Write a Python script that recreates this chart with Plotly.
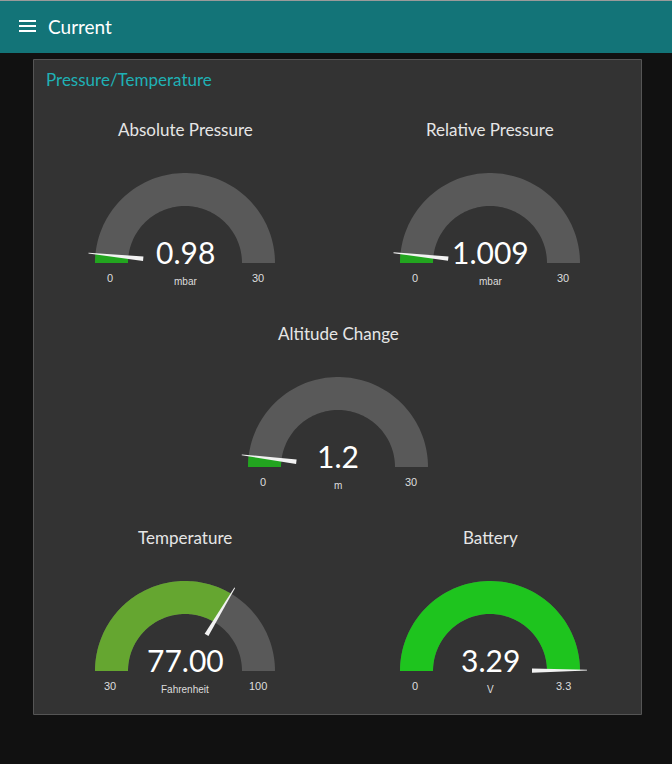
import plotly.graph_objects as go
import numpy as np

# gauge data
titles = ["Absolute Pressure", "Relative Pressure", "Altitude Change", "Temperature", "Battery"]
values = [0.98, 1.009, 1.2, 77.0, 3.29]
value_labels = ["0.98", "1.009", "1.2", "77.00", "3.29"]
mins = [0, 0, 0, 30, 0]
maxs = [30, 30, 30, 100, 3.3]
min_labels = ["0", "0", "0", "30", "0"]
max_labels = ["30", "30", "30", "100", "3.3"]
units = ["mbar", "mbar", "m", "Fahrenheit", "V"]
colors = ["#22a51f", "#22a51f", "#22a51f", "#65a630", "#1ec41e"]

# layout positions (pixel space)
centers = [(185, 263), (490, 263), (338, 467), (185, 671), (490, 671)]
R_IN, R_OUT = 57, 90
FONT = "Lato"

def arc(cx, cy, r0, r1, a0, a1, n=80):
    t = np.radians(np.linspace(a0, a1, n))
    xs = np.concatenate([cx + r1 * np.cos(t), cx + r0 * np.cos(t[::-1])])
    ys = np.concatenate([cy - r1 * np.sin(t), cy - r0 * np.sin(t[::-1])])
    return np.append(xs, xs[0]), np.append(ys, ys[0])

fig = go.Figure()
shapes = [
    dict(type="rect", x0=0, x1=672, y0=0, y1=764, fillcolor="#111111", line_width=0, layer="below"),
    dict(type="rect", x0=0, x1=672, y0=0, y1=53, fillcolor="#137478", line_width=0, layer="below"),
    dict(type="line", x0=0, x1=672, y0=0.5, y1=0.5, line=dict(color="#9a9a9a", width=1)),
    dict(type="rect", x0=33.5, x1=641.5, y0=59.5, y1=714.5, fillcolor="#333333",
         line=dict(color="#555555", width=1), layer="below"),
]
for yy in (21, 26, 31):
    shapes.append(dict(type="line", x0=19, x1=36, y0=yy, y1=yy, line=dict(color="white", width=2)))

annotations = [
    dict(x=46, y=26, text="Current", font=dict(size=19, color="white", family=FONT), xanchor="left"),
    dict(x=44, y=79, text="Pressure/Temperature", font=dict(size=17, color="#1fb1b5", family=FONT), xanchor="left"),
]

for i, (cx, cy) in enumerate(centers):
    frac = (values[i] - mins[i]) / (maxs[i] - mins[i])
    ang = 180 - 180 * min(max(frac, 0), 1)
    xs, ys = arc(cx, cy, R_IN, R_OUT, 0, 180)
    fig.add_trace(go.Scatter(x=xs, y=ys, fill="toself", fillcolor="#595959", mode="none", hoverinfo="skip"))
    xs, ys = arc(cx, cy, R_IN, R_OUT, ang, 180)
    fig.add_trace(go.Scatter(x=xs, y=ys, fill="toself", fillcolor=colors[i], mode="none", hoverinfo="skip"))
    # needle
    t = np.radians(ang)
    ux, uy = np.cos(t), -np.sin(t)
    px, py = -uy, ux
    r0, r1 = 42, 97
    nx = [cx + r0 * ux + 2.2 * px, cx + r1 * ux + 0.4 * px, cx + r1 * ux - 0.4 * px, cx + r0 * ux - 2.2 * px]
    ny = [cy + r0 * uy + 2.2 * py, cy + r1 * uy + 0.4 * py, cy + r1 * uy - 0.4 * py, cy + r0 * uy - 2.2 * py]
    fig.add_trace(go.Scatter(x=nx + [nx[0]], y=ny + [ny[0]], fill="toself", fillcolor="#f2f2f2",
                             mode="none", hoverinfo="skip"))
    annotations += [
        dict(x=cx, y=cy - 134, text=titles[i], font=dict(size=17, color="#e6e6e6", family=FONT)),
        dict(x=cx, y=cy - 11, text=value_labels[i], font=dict(size=30, color="white", family=FONT)),
        dict(x=cx, y=cy + 18, text=units[i], font=dict(size=10, color="#dddddd", family="Liberation Sans")),
        dict(x=cx - 75, y=cy + 15, text=min_labels[i], font=dict(size=11, color="#dddddd", family="Liberation Sans")),
        dict(x=cx + 73, y=cy + 15, text=max_labels[i], font=dict(size=11, color="#dddddd", family="Liberation Sans")),
    ]

for a in annotations:
    a.update(xref="x", yref="y", showarrow=False, yanchor="middle")

fig.update_layout(
    width=672, height=764, margin=dict(l=0, r=0, t=0, b=0),
    paper_bgcolor="#111111", plot_bgcolor="#111111", showlegend=False,
    xaxis=dict(range=[0, 672], visible=False, fixedrange=True),
    yaxis=dict(range=[764, 0], visible=False, fixedrange=True),
    shapes=shapes, annotations=annotations,
)
fig.write_html("out.html", config={"displayModeBar": False},
               post_script="document.body.style.margin='0';document.body.style.background='#111111';")
